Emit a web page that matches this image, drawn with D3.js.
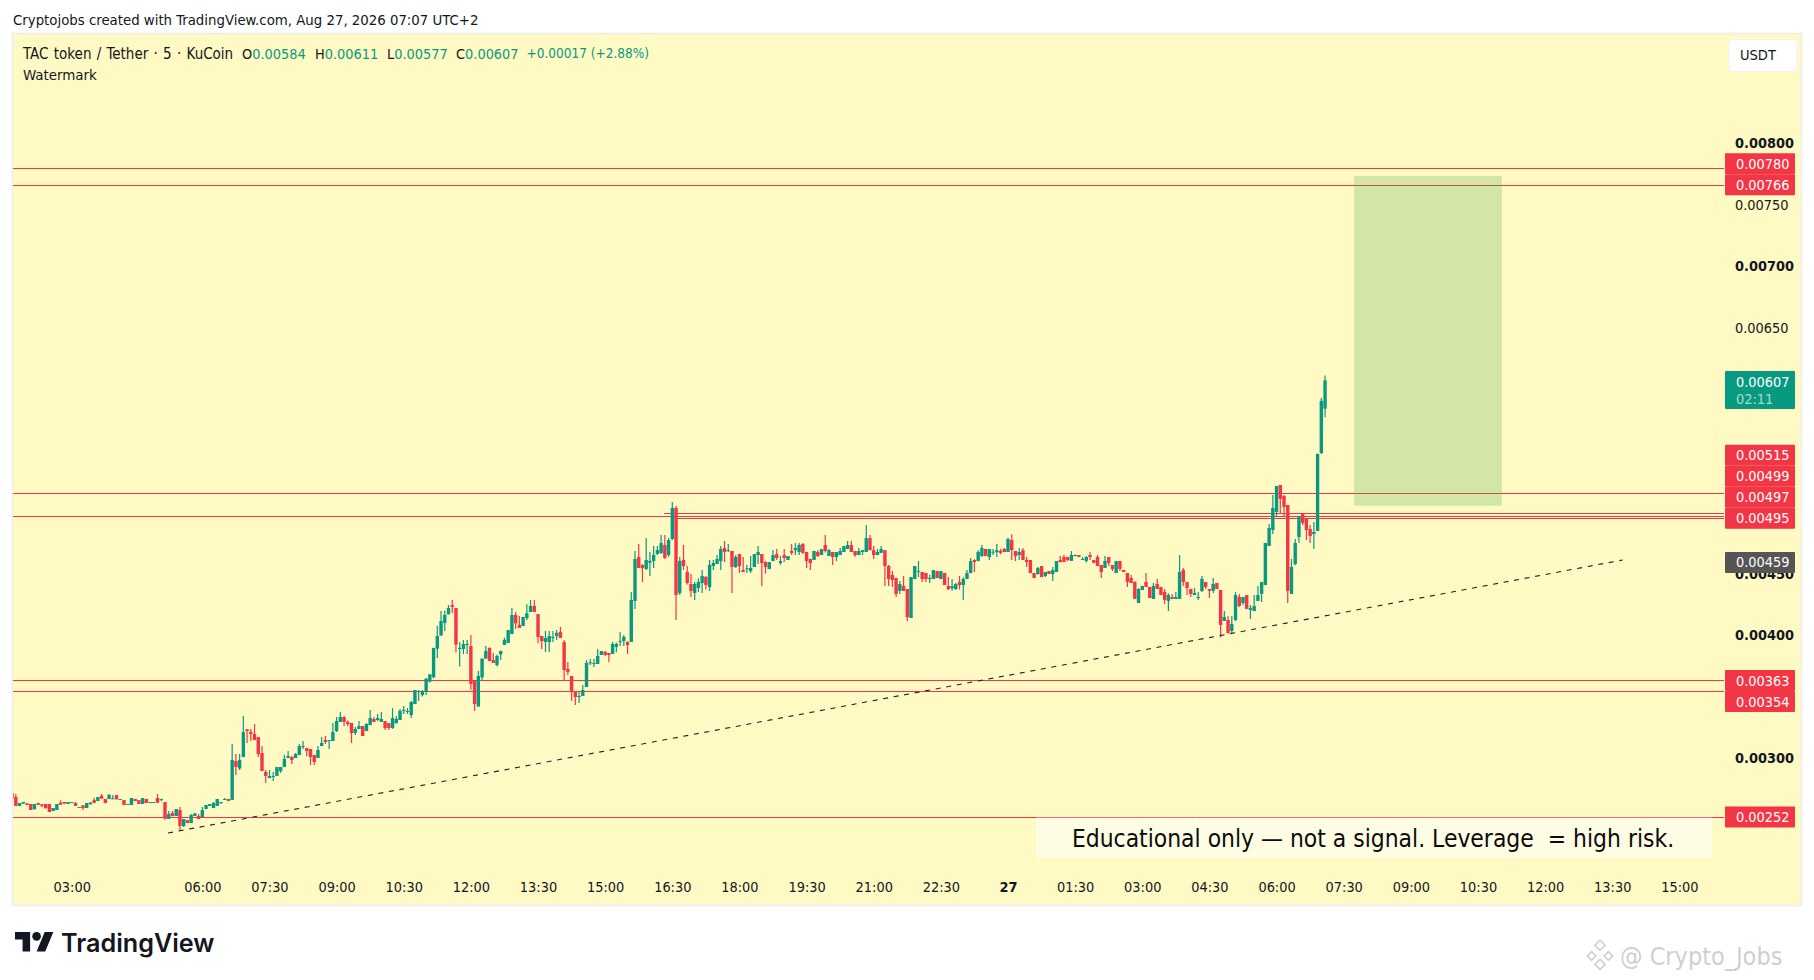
<!DOCTYPE html>
<html>
<head>
<meta charset="utf-8">
<script src="https://cdn.jsdelivr.net/npm/d3@7"></script>
<style>
  body { margin: 0; background: #fff; }
  text { font-family: "DejaVu Sans Condensed", "DejaVu Sans", sans-serif; font-stretch: condensed; white-space: pre; }
</style>
</head>
<body>
<script>
// prices are in units of 0.00001 USDT, rows are [open, high, low, close]
const candlesNight = [
  [271.3,272,267,267.2],[268.3,270.7,261,261],[261,263.4,261,263.4],[262.9,264.2,262.9,264.2],[263.1,263.1,261.8,261.8],
  [262.6,262.6,257.7,257.7],[258.3,262.6,258.3,262.6],[263.4,263.4,262,262],[262.3,262.3,259.9,261],[262.6,262.6,259.1,259.1],
  [262.6,262.6,256.1,256.1],[256.9,259.3,256.9,259.3],[257.7,262.6,257.7,262.6],[263.7,265.6,262,262],[264.2,264.2,262.9,262.9],
  [262.6,264.2,262.6,264.2],[263.4,264.2,263.4,264.2],[263.4,264.2,261,261],[259.6,260.2,259.6,260.2],[261.5,261.5,257.7,259.3],
  [259.3,263.4,259.3,263.4],[262.3,264.3,262.3,263.7],[265.8,267.5,263.4,263.4],[265,268.3,265,268.3],[269.4,270.7,266.9,266.9],
  [266.7,266.7,263.4,263.4],[266.7,270.7,266.7,269.9],[266.7,269.9,266.7,267.2],[269.9,269.9,266.4,266.4],[266.1,266.7,266.1,266.7],
  [265.8,265.8,261.8,261.8],[262,262.6,262,262.6],[261.8,267.5,261.8,267.5],[266.7,266.7,265,265],[265.8,265.8,262.6,262.6],
  [262.6,267.5,262.6,267.5],[266.7,266.7,263.4,263.4],[263.7,264.2,263.7,264.2],[263.7,264.2,263.7,264.2],[267.5,270.7,263.7,263.7],
  [265.8,266.7,264.8,266.7],[264.2,264.2,249.8,250.7],[250.4,256.9,250.4,254.5],[255.3,256.9,252.8,252.8],[252.8,258.5,252.8,258.5],
  [257.7,260.2,241.2,244.7],[244.7,250.4,243.9,250.4],[249.6,249.6,247.1,247.1],[247.1,254.5,247.1,253.6],[252.8,255,252.8,255],
  [252.8,254.5,250.4,250.4],[252,260.2,252,257.7],[258.5,261.8,258.5,261.8],[261,262.6,261,262.6],[259.3,264.2,259.3,263.4],
  [261,266.7,261,266.7],[263.4,264.2,262.6,264.2],[266.1,267.5,266.1,266.7],[266.7,266.7,265,265],[265.8,311.4,265.8,298.4],
  [297.5,303.2,286.2,292.7],[291.6,303.2,290.2,298.4],[300.8,334.1,300.8,321.1],[323.3,323.3,312.2,321.9],[321.1,323.6,313.8,319.5],
  [319.5,327.6,314.6,314.6],[317,317,300.8,303.2],[304,309.7,289.4,289.4],[288.6,290.2,279.7,285.4],[283.7,290.2,283.7,285.4],
  [284.8,288.6,281.3,285.4],[285.4,292.7,285.4,292.7],[289.4,292.7,287.8,292.7],[292.7,302.4,292.7,299.2],[300,305.7,300,301.6],
  [300.8,301.6,295.1,298.4],[300,304,300,303.2],[302.4,311.4,302.4,309.7],[308.9,313.8,307.3,309.7],[308.1,308.1,301.6,305.7],
  [307.3,307.3,294.3,300.8],[302.4,302.4,294.3,296.7],[300,309.7,300,306.5],[309.7,317,309.7,312.2],[314.6,317.9,311.4,313],
  [313.8,314.6,307.3,314.6],[313.8,328.4,313.8,321.1],[321.9,333.3,321.1,330.1],[329.3,337.4,329.3,333.3],[333.3,334.1,326,329.3],
  [329.3,330.4,325.9,327.6],[328.4,328.4,312.2,320.3],[320.3,325.2,318.7,323.6],[323.6,330.1,323.6,326],[326,326,317.9,317.9],
  [321.9,328.4,321.9,327.6],[326.8,339,326.8,332.5],[331.7,333.3,329.3,329.3],[330.9,335.8,330,332.5],[329.3,337.4,329.3,331.7],
  [330,330,322.8,324.4],[328.4,328.4,322.8,324.4],[324.4,340.6,323.6,332.5],[328.2,334.1,328.2,331.7],[330.9,339.8,330.9,338.2],
  [338.2,342.3,335.8,339],[337.7,340.6,335.8,338.2],[334.9,346.3,332.5,345.5],[343.9,355.3,343.9,355.3]
];
const candlesMorning = [
  [353.7,355.3,346.4,354.5],[351.2,355.3,349.9,353.9],[353.7,365.1,351.2,364.5],[362.1,368,361.3,368],[365.6,389.5,364.8,389.5],
  [388.9,407.6,381.3,399.2],[399.5,419.5,399.5,411.4],[409.8,419.8,403.3,416.3],[416.8,424.4,416.8,422],[424.4,428.5,417.6,422.8],
  [422,422,385.7,392.2],[388.9,394.3,374.3,389.5],[388.6,396,384.6,392.7],[392.2,396,384.6,392.7],[391,400,355.3,360.2],
  [363.4,363.4,338.2,343.9],[341.8,370.8,341.8,366.7],[365.6,380.8,363.4,380.8],[380.8,391,380.8,387],[389.5,390,378.9,378.9],
  [379.7,385.4,377.3,377.3],[375.6,384,374.3,383],[384.3,387.5,379.7,387],[391.9,397.9,391.9,396],[393.5,404,393.5,404],
  [400.8,422,400.8,416.3],[416.3,418.7,404.9,409.5],[408.2,415.5,405.7,405.7],[407.3,414.7,407.3,414.7],[413.8,425,412.2,417.6],
  [418.7,428.5,418.7,423.6],[423.6,428.5,418.7,418.7],[417,417,393.5,398.4],[399.2,399.2,388.6,395.1],[394.3,403.3,386.2,397.6],
  [394.3,403.3,386.2,399.2],[397.9,403.3,394.3,398.4],[399.2,404.1,396,401.7],[402.5,406.5,397.6,397.6],[394.3,396,363.4,371.6],
  [372.4,378.1,367.5,370],[366.7,366.7,346.4,354.2],[354.2,354.2,343.1,349.6],[349.9,353.7,344.7,350.4],[350.4,359.4,350.4,355.3],
  [357.7,379.7,357.7,377.3],[377,380.5,375.6,377.8],[376.7,380.5,374,377.3],[376.4,388.6,376.4,383],[383.8,387,383.8,387],
  [386.2,387,383,383.8],[385.4,385.4,378.1,383.8],[384.6,394.3,384.6,392.7],[390.3,394,386,392.7],[394.6,402.5,391,395.1],
  [395.1,400,391,398.4],[394.3,395,384.6,391.9],[394.3,435,394.3,428.5],[427.7,468.3,421.1,461.8],[463.4,474,454.5,454.5],
  [456.9,457.5,443.1,454.5],[453.7,478.9,452.9,461],[458.8,467.5,448,460.2],[460.2,472.4,454.5,465.1],[465.9,472.4,465,469.1],
  [466.7,481.3,465.9,474.8],[473.2,481.3,461.8,462.6],[465,478.9,463.4,477.2],[478,508.1,477.2,503.3],[503.3,504.9,412.2,432.5]
];
const candlesEvening = [
  [434.2,463.4,432.5,460.2],[461,473.2,452.9,456.1],[451.2,456.1,441,442.3],[441.5,449.6,430.9,435.8],[434.2,443,428.5,441.5],
  [438.2,446,435,443.1],[442.3,452.9,434.2,448],[447.2,448,437,440.7],[439,461,435.8,456.9],[456.1,461,452.8,458.5],
  [457.7,465,457.7,461.8],[460.1,472.3,452.8,469.9],[470.7,476.4,459.3,467.5],[468.3,474,467.5,469],[468.3,468.3,434.1,455.3],
  [455.3,465,454.5,463.4],[465.8,466,450.4,456.1],[452.8,463.4,451.2,451.2],[453.6,456.9,450.4,454.2],[452,464.2,450.4,454.5],
  [455.3,465.8,455.3,465.8],[465,472.3,457.7,467.5],[465.8,465.8,439.8,458.5],[459.3,460,450,455.3],[453.6,459.3,453.6,459.3],
  [460.1,469.1,460.1,465],[465.8,469.9,461,462.6],[458.5,464.2,456.9,460.1],[465,469.9,459.3,462.6],[461,464.2,461,464.2],
  [468.3,474,465,466.7],[469,474.8,465,470.7],[467.5,474.8,465,473.2],[474,474.8,466,466.7],[467.5,467.5,454.5,460.1],
  [461.8,461.8,452.8,458.5],[461,468.3,461,468.3],[467.5,469,463.4,464.2],[465,469.9,465,469.9],[473.2,481.3,467,468.3],
  [464.2,470,464.2,469],[467.5,467.5,456.9,463.4],[463.4,467.5,460.1,467.5],[465,470.7,465,468.3],[467.5,472.3,467.5,472.3],
  [469.9,476.4,469.9,473.2],[473.2,476.4,467.5,467.5],[468.3,468.3,463.4,465],[465,470.7,465,468.3],[467.5,469,465,469],
  [467.5,489.4,467.5,478.8],[478.8,481.3,469,469],[469,472.3,461.8,465],[465,469.9,465,467.5],[466.7,472.3,466.7,469.9],
  [469,469,439.8,456.1],[456.1,456.9,439.8,445.5],[448.8,452,439,444.7],[446.3,446.3,430.9,433.3],[435.8,444,433.3,441.4],
  [439.8,448,435.8,435.8],[437.4,437.4,411.4,414.6],[413.8,447.1,413.8,447.1],[445.5,456.1,445.5,456.1],[451.5,460.1,447.1,452],
  [451.2,451.2,443.1,445.5],[450.4,450.4,443.1,445.5],[445.8,448.8,442.3,446.3],[445.5,452.8,445.5,452.8],[452,452,446.3,446.3],
  [445.5,452,445.5,452],[450.4,450.4,440.6,440.6],[439.8,447.1,436.6,437.4],[437.9,445.5,436,439.8],[437.4,442.3,436.6,441.4],
  [443.1,448,437,440.6],[440.6,447,428.4,445.5],[445.5,452.8,445.5,450.4],[450.4,462.6,450.4,460.1],[461,461.5,451.2,459.3],
  [460.1,469,460.1,467.5],[464.2,473.2,463.4,470.7],[469.9,469.9,464.2,464.2],[463.4,469.9,461,469.9],[466.9,469.9,465,467.7],
  [467.5,474,463.4,469],[468.3,469.9,465.6,466.7],[469.9,470.7,467.5,467.5],[467.5,479,467.5,478],[477.2,482,461,469],
  [468.3,468.3,460.1,464.2],[465,470.7,461,467.5],[469,470.7,461,461],[461,463.4,455.3,459.3],[461,461,450.4,450.4],
  [450.4,450.4,446.3,446.3],[449.6,455.3,449,454.5],[456.1,456.1,447.1,447.1],[448,451.2,447,451.2],[452,452,449.6,449.6],
  [449.6,455.3,443.9,452.8],[451.2,460.1,451.2,460.1]
];
const candlesLate = [
  [461,464.3,459,459.4],[463.4,465,459.4,459.4],[463.4,463.4,460,461],[460.2,468.3,460.2,465],[464.4,465.5,464,465],
  [465,465,463.4,463.4],[461.3,463.4,461,461.8],[460.2,464,459,463.4],[465,467.5,461,463.4],[461,461,458.6,458.6],
  [463.4,465,456.1,456.1],[456.9,456.9,446.4,451.2],[454.5,464.3,454.5,460.2],[463.4,463.4,456.1,458.6],[456.9,456.9,452,453.7],
  [450.4,460.2,450.4,460.2],[460.2,460.2,452,453.7],[452.9,452.9,451.2,451.2],[450.4,450.4,439,443.1],[446.4,448.8,442.3,442.3],
  [443.1,443.6,429.3,429.3],[426,438,426,437.4],[436.6,439.9,436.6,439.9],[443.1,450.4,439.1,439.1],[439.1,439.1,430.1,430.1],
  [429.3,442.3,429.3,439.9],[441.5,445.6,437.4,437.4],[439.1,439.1,432.5,432.5],[435,437.4,425.2,428.5],[427.7,434,419.5,432.5],
  [430.9,433.4,429.3,429.3],[429.3,435,429.3,430.9],[429.3,465,429.3,451.2],[452.9,454.5,439.9,443.1],[443.1,443.1,432.5,438.2],
  [437.4,437.4,430.9,433.4],[432.5,438.2,432.5,434.2],[430.1,435,428.5,430.9],[435.8,448,435,445.6],[443.1,443.1,437.4,439.1],
  [437.4,437.4,430.1,436],[435.8,446.4,434.2,441.5],[442.3,442.3,437.4,437.4],[436.6,436.6,397.9,408.2],[411.4,419.5,411.4,414.7],
  [412.2,415.5,401,401.6],[403.3,415.5,400.8,409],[412.2,435,411.4,432.5],[430.9,433.4,422.8,423.6],[426,431,424.4,430.9],
  [432.5,432.5,421.2,421.2],[420.4,424.4,413,422],[419.5,432.5,419.5,423.6],[427.7,439.9,427.7,432.5],[433.4,443.1,426.9,443.1],
  [440.7,474.8,440.7,474.8],[472.4,490.3,472.4,487],[485.4,513.8,482.1,503.3],[500,521.2,496.8,521.2],[522,522,498.9,510.6],
  [513,513.8,496.8,504.1],[505.7,505.7,426,435.8],[433.4,461.8,433.4,455.3],[457.7,478.1,456.5,474.8],[479.7,496.8,474.8,496.8],
  [498.4,498.4,489.4,491.1],[494.3,494.3,477.3,485.4],[486.2,489.4,474.8,480.5],[482.1,491.9,470,483.8],[484.6,547.5,484.6,547.2],
  [548,592.7,547.2,590.3],[584,611,577,607]
];

// bar number counted from the 00:00 bar of the 27th
const lastBar = 85;
const tickLabels = ["03:00","06:00","07:30","09:00","10:30","12:00","13:30","15:00","16:30","18:00","19:30","21:00","22:30","27",
  "01:30","03:00","04:30","06:00","07:30","09:00","10:30","12:00","13:30","15:00"];
const tickBars = [-251,-216,-198,-180,-162,-144,-126,-108,-90,-72,-54,-36,-18,0,18,36,54,72,90,108,126,144,162,180];

const priceTicks = [800,750,700,650,450,400,300];
const boldTicks = [800,700,450,400,300];

const levelValues = [780,766,515,499,497,495,363,354.3,252];
const levelFromBar = [null,null,null,-92.2,null,-89.3,null,null,null];
// scale labels that collide are stacked around the anchor level
const labelGroups = [
  { levels: [780,766], anchor: 766 },
  { levels: [515,499,497,495], anchor: 495 },
  { levels: [363,354.3], anchor: 363 },
  { levels: [252], anchor: 252 }
];

const trendBars = [-225.2,164.8];
const trendPrices = [239,461];
const targetBars = [92.76,132.4];
const targetPrices = [773.2,505.1];

const lastPrice = 607, lastCountdown = "02:11", lineLabelPrice = 459;
const ohlcLabels = ["O","H","L","C"], ohlcValues = ["0.00584","0.00611","0.00577","0.00607"];
const ohlcX = [242,315,387,456];

const RED = "#f23645", GREEN = "#089981", BG = "#fff9c4", INK = "#131722";
const FONT = '"DejaVu Sans Condensed", "DejaVu Sans", sans-serif';
const plot = { left: 13, right: 1801, top: 34, bottom: 905 };
const fmt = d => (d / 1e5).toFixed(5);

const svg = d3.select("body").append("svg").attr("width", 1814).attr("height", 980);

const x = d3.scaleLinear().domain([0, lastBar]).range([1008, 1325.05]);
const y = d3.scaleLinear().domain([300, 800]).range([758, 143]);

const rows = [...candlesNight, ...candlesMorning, ...candlesEvening, ...candlesLate];
const candles = rows.map((r, i) => ({ bar: lastBar - (rows.length - 1 - i), o: r[0], h: r[1], l: r[2], c: r[3] }));

svg.append("text").attr("x", 13).attr("y", 20).attr("dy", "0.35em")
  .attr("font-size", 14.8).attr("fill", INK)
  .text("Cryptojobs created with TradingView.com, Aug 27, 2026 07:07 UTC+2");

svg.append("rect").attr("x", plot.left - 0.5).attr("y", plot.top - 0.5)
  .attr("width", plot.right - plot.left + 1).attr("height", plot.bottom - plot.top + 1)
  .attr("fill", BG).attr("stroke", "#f0f0ea").attr("stroke-width", 2);

svg.append("clipPath").attr("id", "plotClip").append("rect")
  .attr("x", plot.left).attr("y", plot.top)
  .attr("width", plot.right - plot.left).attr("height", plot.bottom - plot.top);

const chart = svg.append("g").attr("clip-path", "url(#plotClip)");

// horizontal levels
const levelY = d => Math.round(y(d) - 0.1) + 0.5;
chart.selectAll("line.level").data(levelValues).enter().append("line")
  .attr("class", "level")
  .attr("x1", (d, i) => levelFromBar[i] === null ? plot.left : x(levelFromBar[i]))
  .attr("x2", 1724)
  .attr("y1", levelY).attr("y2", levelY)
  .attr("stroke", RED).attr("stroke-width", 1);

// candles
chart.selectAll("line.wick").data(candles).enter().append("line")
  .attr("class", "wick")
  .attr("x1", d => x(d.bar)).attr("x2", d => x(d.bar))
  .attr("y1", d => y(d.h)).attr("y2", d => y(d.l))
  .attr("stroke", d => d.c >= d.o ? GREEN : RED).attr("stroke-width", 1.2);

chart.selectAll("rect.body").data(candles).enter().append("rect")
  .attr("class", "body")
  .attr("x", d => x(d.bar) - 1.7).attr("width", 3.4)
  .attr("y", d => y(Math.max(d.o, d.c)))
  .attr("height", d => Math.max(1, Math.abs(y(d.o) - y(d.c))))
  .attr("fill", d => d.c >= d.o ? GREEN : RED);

// long position box, sits above the levels
chart.append("rect")
  .attr("x", x(targetBars[0])).attr("width", x(targetBars[1]) - x(targetBars[0]))
  .attr("y", y(targetPrices[0])).attr("height", y(targetPrices[1]) - y(targetPrices[0]))
  .attr("fill", "rgba(76,175,80,0.25)");

// trend line
chart.append("line")
  .attr("x1", x(trendBars[0])).attr("y1", y(trendPrices[0]))
  .attr("x2", x(trendBars[1])).attr("y2", y(trendPrices[1]))
  .attr("stroke", "#222").attr("stroke-width", 1.1).attr("stroke-dasharray", "5,5.7");

// note box
chart.append("rect").attr("x", 1036).attr("y", 817.5).attr("width", 676).attr("height", 40.5)
  .attr("fill", "rgba(255,255,255,0.55)");
chart.append("text").attr("x", 1373).attr("y", 838).attr("dy", "0.35em")
  .attr("text-anchor", "middle").attr("font-size", 24.4).attr("fill", "#0b0b0b")
  .text("Educational only \u2014 not a signal. Leverage  = high risk.");

// legend
svg.append("text").attr("x", 23).attr("y", 53.5).attr("dy", "0.35em")
  .attr("font-size", 15).attr("word-spacing", 1).attr("fill", INK).text("TAC token / Tether \u00b7 5 \u00b7 KuCoin");
ohlcLabels.forEach((l, i) => {
  const t = svg.append("text").attr("x", ohlcX[i]).attr("y", 53.5).attr("dy", "0.35em").attr("font-size", 14.4).attr("fill", INK);
  t.append("tspan").text(l);
  t.append("tspan").attr("fill", GREEN).text(ohlcValues[i]);
});
svg.append("text").attr("x", 526.5).attr("y", 53.5).attr("dy", "0.35em")
  .attr("font-size", 13.5).attr("fill", GREEN).text("+0.00017 (+2.88%)");
svg.append("text").attr("x", 23).attr("y", 75).attr("dy", "0.35em")
  .attr("font-size", 14.9).attr("fill", INK).text("Watermark");

// axes
const xAxis = d3.axisBottom(x).tickValues(tickBars).tickSize(0).tickPadding(0)
  .tickFormat((d, i) => tickLabels[i]);
const xG = svg.append("g").attr("transform", "translate(0,882)").call(xAxis);
xG.select(".domain").remove();
xG.selectAll("text").attr("font-size", 14.4).attr("fill", INK)
  .attr("font-family", FONT)
  .attr("font-weight", (d, i) => tickLabels[i] === "27" ? "bold" : "normal");

const yAxis = d3.axisRight(y).tickValues(priceTicks).tickSize(0).tickPadding(0).tickFormat(fmt);
const yG = svg.append("g").attr("transform", "translate(1735,0)").call(yAxis);
yG.select(".domain").remove();
yG.selectAll("text").attr("font-size", 14.4).attr("fill", INK)
  .attr("font-family", FONT)
  .attr("font-weight", d => boldTicks.includes(d) ? "bold" : "normal");

// price labels on the scale
const labelH = 21;
function priceLabel(cy, h, fill, lines) {
  svg.append("rect").attr("x", 1725).attr("y", cy - h / 2).attr("width", 70).attr("height", h)
    .attr("rx", 1).attr("fill", fill);
  lines.forEach(l => svg.append("text").attr("x", 1736).attr("y", cy + l.dy).attr("dy", "0.35em")
    .attr("font-size", 14.4).attr("fill", l.fill).text(l.text));
}
labelGroups.forEach(g => {
  const at = g.levels.indexOf(g.anchor);
  g.levels.forEach((v, i) => {
    priceLabel(y(g.anchor) + (i - at) * labelH, labelH, RED, [{ dy: 0, fill: "#fff", text: fmt(v) }]);
  });
});
priceLabel(y(lastPrice) + 9.5, 38, GREEN, [
  { dy: -8, fill: "#fff", text: fmt(lastPrice) },
  { dy: 9, fill: "#a6d9cf", text: lastCountdown }
]);
priceLabel(y(lineLabelPrice), labelH, "#555", [{ dy: 0, fill: "#fff", text: fmt(lineLabelPrice) }]);

// currency button
svg.append("rect").attr("x", 1729).attr("y", 39.5).attr("width", 68).attr("height", 32).attr("rx", 4)
  .attr("fill", "#fff").attr("stroke", "#f0f3fa");
svg.append("text").attr("x", 1740).attr("y", 55).attr("dy", "0.35em").attr("font-size", 14.5).attr("fill", INK).text("USDT");

// logo
const logo = svg.append("g").attr("transform", "translate(15,927.7) scale(1.08)").attr("fill", "#131722");
logo.append("path").attr("d", "M14 22H7V11H0V4h14v18ZM28 22h-8l7.5-18h8L28 22Z");
logo.append("circle").attr("cx", 20).attr("cy", 8).attr("r", 4);
svg.append("text").attr("x", 61).attr("y", 943).attr("dy", "0.35em")
  .style("font-family", "Inter, sans-serif").style("font-stretch", "normal")
  .attr("font-size", 25.2).attr("font-weight", 600).attr("fill", "#131722").text("TradingView");

// reposter watermark
const mark = svg.append("g").attr("transform", "translate(1600,956) scale(1.2)")
  .attr("fill", "none").attr("stroke", "#d2d2d2").attr("stroke-width", 1.4);
[[0,-9,6],[-7,0,5],[7,0,5],[0,7,6]].forEach(s => {
  mark.append("rect").attr("x", s[0] - s[2] / 2).attr("y", s[1] - s[2] / 2).attr("width", s[2]).attr("height", s[2])
    .attr("transform", `rotate(45 ${s[0]} ${s[1]})`);
});
svg.append("text").attr("x", 1620).attr("y", 956).attr("dy", "0.35em")
  .attr("font-size", 25).attr("fill", "#cfcfcf").text("@ Crypto_Jobs");
</script>
</body>
</html>
